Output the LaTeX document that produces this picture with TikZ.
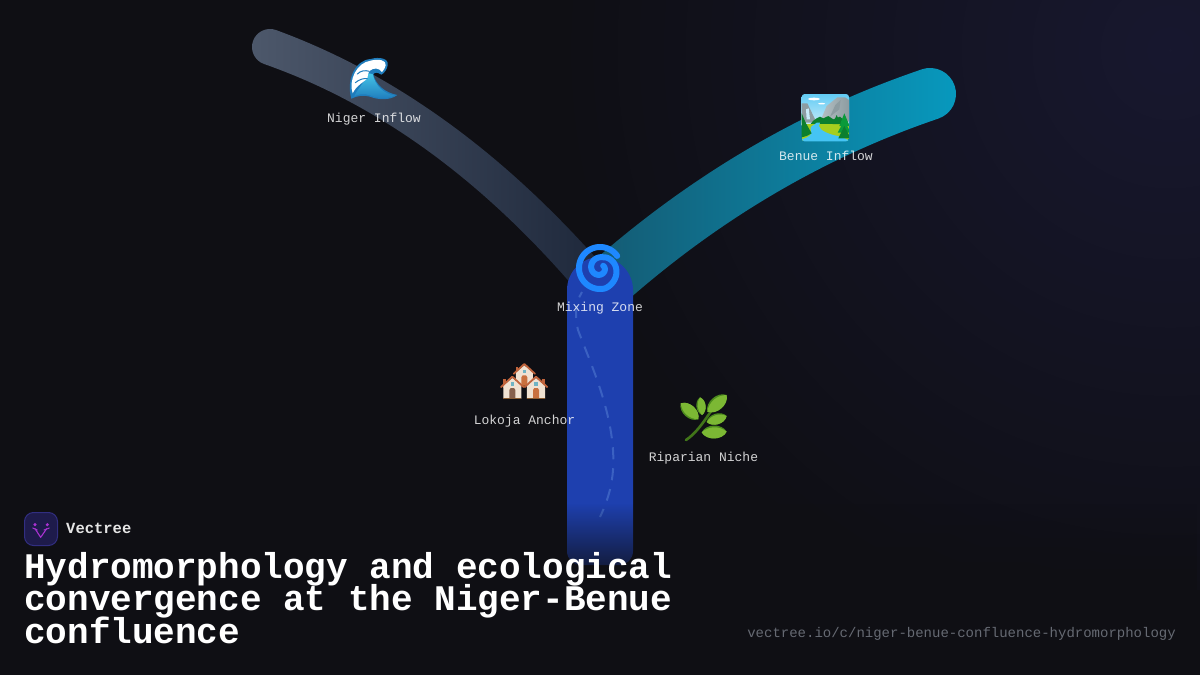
\documentclass[tikz,border=0pt]{standalone}
\usepackage{fontspec}
\setmainfont{Liberation Mono}
\usetikzlibrary{fadings,shadings}
\definecolor{bgc}{HTML}{0F0F14}
\definecolor{glowc}{HTML}{18182F}
\definecolor{nigA}{HTML}{4D586B}
\definecolor{nigB}{HTML}{1C2639}
\definecolor{benA}{HTML}{0799BE}
\definecolor{benB}{HTML}{155870}
\definecolor{riv}{HTML}{1E40AF}
\definecolor{dashc}{HTML}{93C5FD}
\definecolor{roof}{HTML}{C0643C}
\definecolor{wall}{HTML}{F0E2D2}
\definecolor{leafD}{HTML}{4C8A1E}
\definecolor{leafL}{HTML}{7CB834}
\definecolor{spiralc}{HTML}{1E88FF}
\definecolor{waveD}{HTML}{1F7CBC}
\definecolor{waveL}{HTML}{45C5E8}
\definecolor{logoF}{HTML}{1E1B4B}
\definecolor{logoB}{HTML}{312E81}
\definecolor{logoG}{HTML}{A832D0}
\definecolor{urlc}{HTML}{666A73}
\definecolor{skyA}{HTML}{62CBF4}
\definecolor{skyB}{HTML}{C8ECF9}
\definecolor{mntA}{HTML}{8D9CA1}
\definecolor{mntB}{HTML}{B6C1C4}
\definecolor{treeA}{HTML}{0A9A3A}
\definecolor{treeB}{HTML}{0B7F2E}
\definecolor{grass}{HTML}{A6CE1E}
\definecolor{water}{HTML}{45C4F4}
\definecolor{doorA}{HTML}{C9713F}
\definecolor{doorB}{HTML}{86604C}
\definecolor{winc}{HTML}{6FB4C4}
\pgfdeclarehorizontalshading{nigS}{100bp}{color(0bp)=(nigA); color(25bp)=(nigA); color(75bp)=(nigB); color(100bp)=(nigB)}
\pgfdeclarehorizontalshading{benS}{100bp}{color(0bp)=(benB); color(25bp)=(benB); color(75bp)=(benA); color(100bp)=(benA)}
\tikzfading[name=fadeS, top color=transparent!100, bottom color=transparent!0]
\tikzfading[name=fadeG, inner color=transparent!0, outer color=transparent!100]
\tikzset{
  lab/.style={font=\fontsize{13}{15}\selectfont, text=white, text opacity=.82, anchor=base, inner sep=0pt},
  crop/.style 2 args={shift={(#1,#2)}, x=0.33333pt, y=-0.33333pt},
}
\newcommand{\onehouse}[6]{% cx, peak y, half width, base y, chimney side, door colour
  \pgfmathsetmacro{\eavey}{#2+(#3)*0.8}
  \fill[roof] (#1+#5*#3*0.56,#2+8) rectangle (#1+#5*#3*0.80,#2+34);
  \fill[wall] (#1-#3*0.8,\eavey) -- (#1,#2+4) -- (#1+#3*0.8,\eavey) -- (#1+#3*0.8,#4) -- (#1-#3*0.8,#4) -- cycle;
  \draw[line width=.9pt, draw=brown!70!black] (#1-#3*0.8,#4-1) -- (#1+#3*0.8,#4-1);
  \draw[roof, line width=1.8pt, line join=round, line cap=round] (#1-#3,#2+#3*0.92) -- (#1,#2) -- (#1+#3,#2+#3*0.92);
  \fill[#6] (#1-9,#4-2) -- (#1-9,#4-26) -- (#1-5,#4-32) -- (#1+5,#4-32) -- (#1+9,#4-26) -- (#1+9,#4-2) -- cycle;
  \fill[winc] (#1-5,#2+17) rectangle (#1+5,#2+28);
}
\newcommand{\oneleaf}[2]{%
  \fill[leafD] (#1) to[bend left=62] (#2) to[bend left=62] (#1);
  \fill[leafL] (#1) to[bend left=40] (#2) to[bend left=62] (#1);
}
\begin{document}
\begin{tikzpicture}[x=1pt,y=-1pt]
\useasboundingbox (0,0) rectangle (1200,675);
\begin{scope}
\clip (0,0) rectangle (1200,675);
\fill[bgc] (0,0) rectangle (1200,675);
\fill[glowc, path fading=fadeG] (1170,50) circle[radius=620pt];

% Rivers
\shade[shading=nigS]
  (275.9,30) .. controls (399,75) and (511,158) .. (613.8,278.5) -- (586.2,301.5)
  .. controls (488.3,184) and (381,104.9) .. (264.1,64)
  arc[start angle=250.9,end angle=70.9,radius=18pt] -- cycle;
\shade[shading=benS]
  (921.7,69.4) .. controls (798.3,111.2) and (685.3,178.3) .. (582.6,270.7) -- (617.4,309.3)
  .. controls (714.7,221.7) and (821.7,158.1) .. (938.3,118.6)
  arc[start angle=-71.4,end angle=108.6,radius=26pt] -- cycle;
\fill[riv] (567,290) arc[start angle=180,end angle=0,radius=33pt] -- (633,551)
  .. controls (633,559) and (627,565) .. (619,565) -- (581,565)
  .. controls (573,565) and (567,559) .. (567,551) -- cycle;
\draw[dashc, opacity=.25, line width=2pt, dash pattern=on 12pt off 9pt, dash phase=6pt]
  (582,292) .. controls (575,303) and (575,318) .. (578,330)
  .. controls (590,362) and (610,405) .. (613,450)
  .. controls (615,480) and (608,500) .. (600,517);

% Bottom fade
\fill[bgc, path fading=fadeS] (0,503) rectangle (1200,590);
\fill[bgc] (0,589.5) rectangle (1200,675);
\end{scope}

% Wave emoji
\begin{scope}[crop={340}{50}]
  \fill[waveD] (34,146) .. controls (18,90) and (45,30) .. (92,27)
    .. controls (115,20) and (148,24) .. (143,46) .. controls (141,58) and (133,70) .. (124,74)
    .. controls (112,66) and (102,66) .. (100,74) .. controls (108,105) and (135,128) .. (172,135)
    .. controls (150,152) and (115,150) .. (90,140) .. controls (70,134) and (50,138) .. (34,146) -- cycle;
  \shade[top color=waveL, bottom color=waveD] (42,140) .. controls (55,112) and (70,104) .. (84,70)
    -- (98,72) .. controls (106,108) and (130,130) .. (164,137)
    .. controls (140,148) and (115,146) .. (90,136) .. controls (72,130) and (55,132) .. (42,140) -- cycle;
  \fill[white] (38,130) .. controls (25,90) and (50,38) .. (92,32)
    .. controls (115,26) and (140,30) .. (137,46) .. controls (135,54) and (132,60) .. (126,66)
    .. controls (118,54) and (100,52) .. (90,62) .. controls (82,70) and (84,80) .. (82,86)
    .. controls (70,96) and (48,108) .. (38,130) -- cycle;
  \draw[waveD, line width=1pt, line cap=round] (52,72) .. controls (62,62) and (75,60) .. (88,64);
  \draw[waveD, line width=1pt, line cap=round] (46,98) .. controls (58,88) and (72,84) .. (82,86);
\end{scope}

% Landscape emoji
\begin{scope}[crop={600}{50}]
  \begin{scope}
    \clip[rounded corners=3pt] (605,132) rectangle (747,274);
    \shade[top color=skyA, bottom color=skyB] (605,132) rectangle (747,225);
    \fill[white] (642,147) ellipse[x radius=6pt, y radius=1.3pt];
    \fill[white] (665,161) ellipse[x radius=3.5pt, y radius=.8pt];
    \fill[mntA] (605,160) -- (622,160) -- (650,218) -- (605,218) -- cycle;
    \fill[skyB] (618,178) -- (626,175) -- (630,208) -- (620,208) -- cycle;
    \shade[left color=mntB, right color=mntA] (660,215) -- (680,168) -- (712,142) -- (735,142) -- (747,150) -- (747,215) -- cycle;
    \fill[mntA] (690,200) -- (706,165) -- (722,150) -- (718,178) -- cycle;
    \fill[treeB] (630,224) -- (640,212) -- (650,205) -- (660,200) -- (670,205) -- (685,198) -- (700,208) -- (720,200) -- (747,224) -- cycle;
    \fill[grass] (605,222) -- (747,222) -- (747,274) -- (605,274) -- cycle;
    \fill[water] (650,218) -- (660,218) .. controls (650,232) and (665,245) .. (700,255)
      .. controls (725,260) and (738,266) .. (747,272) -- (747,274) -- (605,274) -- (605,268)
      .. controls (625,262) and (640,255) .. (632,238) .. controls (628,228) and (645,225) .. (650,218) -- cycle;
    \fill[treeB] (605,190) -- (618,220) -- (635,250) -- (620,258) -- (605,262) -- cycle;
    \fill[treeA] (733,190) -- (749,228) -- (718,228) -- cycle;
    \fill[treeA] (733,210) -- (752,248) -- (713,248) -- cycle;
    \fill[treeB] (733,228) -- (752,265) -- (715,265) -- cycle;
    \fill[treeB] (710,195) -- (722,222) -- (698,222) -- cycle;
  \end{scope}
\end{scope}

% Spiral emoji
\draw[spiralc, line width=6pt, line cap=round, line join=round]
  plot[domain=0:720, samples=180, smooth]
  ({600+(21-0.066*max(0,min(\x-250,150))-0.0225*max(0,\x-400))*cos(-35-\x)},
   {268+(21-0.066*max(0,min(\x-250,150))-0.0225*max(0,\x-400))*sin(-35-\x)});

% Houses emoji
\begin{scope}[crop={460}{280}]
  \onehouse{193}{252}{32}{318}{-1}{doorA}
  \onehouse{157}{290}{34}{356}{-1}{doorB}
  \onehouse{228}{290}{34}{356}{1}{doorA}
\end{scope}

% Leaf emoji
\begin{scope}[crop={460}{280}]
  \draw[leafD!85!black, line width=2.6pt, line cap=round] (678,480) .. controls (705,462) and (725,435) .. (752,395);
  \oneleaf{715,418}{662,370}
  \oneleaf{726,405}{720,352}
  \oneleaf{742,395}{800,345}
  \oneleaf{740,426}{800,408}
  \oneleaf{725,457}{800,455}
\end{scope}

% Labels
\node[lab] (niger) at (374,122) {Niger Inflow};
\node[lab] (benue) at (826,160) {Benue Inflow};
\node[lab] (mixing) at (600,311) {Mixing Zone};
\node[lab] (lokoja) at (524.5,424) {Lokoja Anchor};
\node[lab] (riparian) at (703.5,461) {Riparian Niche};

% Logo
\fill[fill=logoF, draw=logoB, line width=1pt, rounded corners=9pt] (24.5,512.5) rectangle (57.5,545.5);
\begin{scope}[crop={20}{508}]
  \draw[logoG, line width=1.1pt, line cap=round, line join=round]
    (45,62) -- (62,88) -- (80,62);
  \draw[logoG, line width=1pt, line cap=round] (38,60) -- (52,66) (88,60) -- (72,66);
  \fill[logoG] (45,50) circle[radius=1.7pt] (82,50) circle[radius=1.7pt];
\end{scope}
\node[anchor=base west, inner sep=0pt, text=white!90!black, font=\bfseries\fontsize{15.5}{18}\selectfont] (brand) at (66,533) {Vectree};
\node[anchor=north west, inner sep=0pt, align=left, text=white, font=\bfseries\fontsize{36}{32.5}\selectfont] (title) at (24,552)
  {Hydromorphology and ecological\\[-2.5pt]convergence at the Niger-Benue\\[-2.5pt]confluence};
\node[anchor=base east, inner sep=0pt, text=urlc, font=\fontsize{14}{16}\selectfont] (url) at (1176,637) {vectree.io/c/niger-benue-confluence-hydromorphology};
\end{tikzpicture}
\end{document}
